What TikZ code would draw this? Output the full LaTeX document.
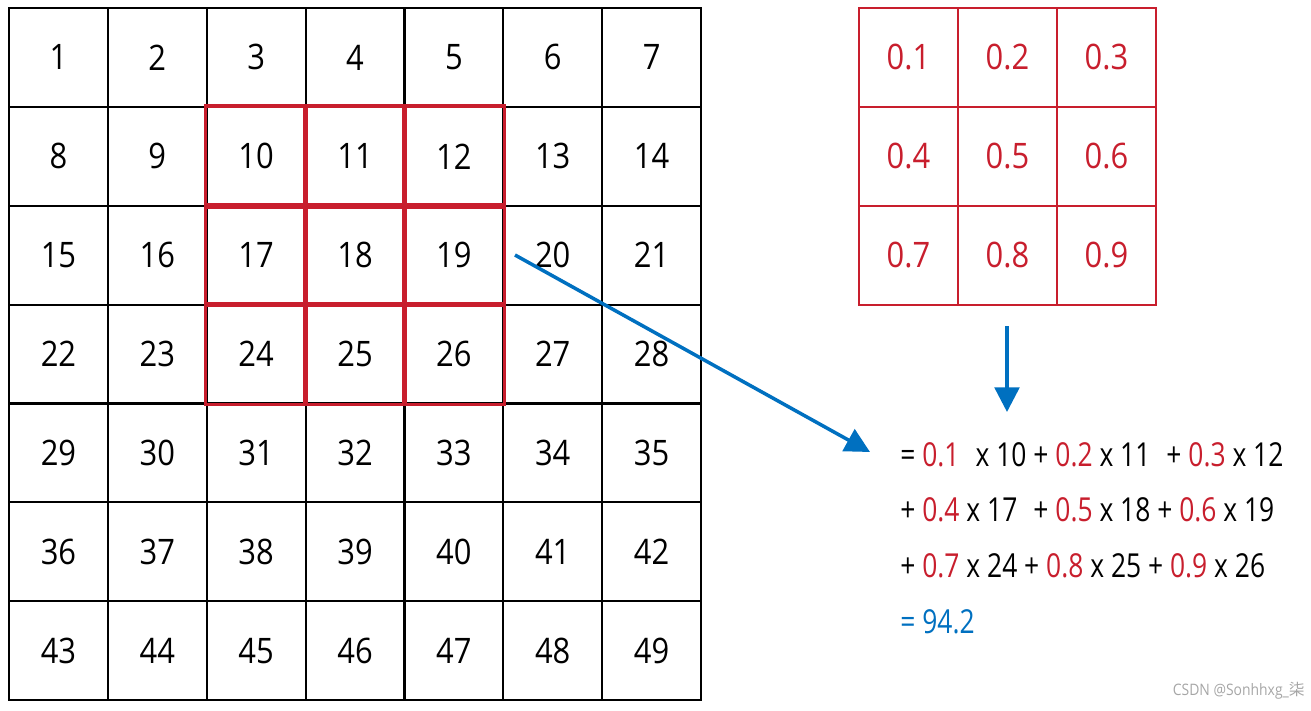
\documentclass[tikz,border=0pt]{standalone}
\usepackage{fontspec}
\setmainfont{Open Sans}[FakeStretch=0.88]
\newfontfamily\narrowf{Open Sans}[FakeStretch=0.8]
\newfontfamily\cjk{Noto Sans CJK SC}
\usetikzlibrary{arrows.meta}
\definecolor{kred}{RGB}{200,30,45}
\definecolor{kblue}{RGB}{0,112,192}
\begin{document}
\begin{tikzpicture}[x=0.02cm,y=-0.02cm,
  cell/.style={draw=black,line width=1.2pt,minimum size=98.86*0.02cm,inner sep=0,font=\fontsize{20}{24}\selectfont},
  kcell/.style={draw=kred,line width=1pt,minimum size=99*0.02cm,inner sep=0,text=kred,font=\fontsize{20}{24}\selectfont},
  eq/.style={anchor=west,inner sep=0,font=\narrowf\fontsize{18.8}{22}\selectfont},
  barrow/.style={kblue,line width=2pt,-{Triangle[length=14pt,width=14pt]}}]
\useasboundingbox (0,0) rectangle (1311,710);
\foreach \r in {0,...,6}{\foreach \c in {0,...,6}{
  \pgfmathtruncatemacro\n{\r*7+\c+1}
  \node[cell] (g\r\c) at ({9+98.86*(\c+0.5)},{8+98.86*(\r+0.5)}) {\n};}}
\foreach \r in {1,2,3}{\foreach \c in {2,3,4}{
  \draw[kred,line width=2pt] (g\r\c.north west) rectangle (g\r\c.south east);}}
\foreach \r/\a/\b/\cc in {0/0.1/0.2/0.3,1/0.4/0.5/0.6,2/0.7/0.8/0.9}{
  \node[kcell] (k\r0) at ({859+99*0.5},{8+99*(\r+0.5)}) {\a};
  \node[kcell] (k\r1) at ({859+99*1.5},{8+99*(\r+0.5)}) {\b};
  \node[kcell] (k\r2) at ({859+99*2.5},{8+99*(\r+0.5)}) {\cc};}
\node[eq] (e1) at (900,455) {= \textcolor{kred}{0.1}\; x 10 + \textcolor{kred}{0.2} x 11\; + \textcolor{kred}{0.3} x 12};
\node[eq] (e2) at (900,510) {+ \textcolor{kred}{0.4} x 17\; + \textcolor{kred}{0.5} x 18 + \textcolor{kred}{0.6} x 19};
\node[eq] (e3) at (900,566) {+ \textcolor{kred}{0.7} x 24 + \textcolor{kred}{0.8} x 25 + \textcolor{kred}{0.9} x 26};
\node[eq,text=kblue] (e4) at (900,622) {= 94.2};
\coordinate (s) at (515,255);
\coordinate (t) at (870,452);
\draw[barrow] (s) -- (t);
\coordinate (d1) at (1007,326);
\coordinate (d2) at (1007,412);
\draw[barrow] (d1) -- (d2);
\node[anchor=east,text=gray!70,font=\fontsize{9}{10}\selectfont,inner sep=0] (wm) at (1305,691) {CSDN @Sonhhxg\_{\cjk 柒}};
\end{tikzpicture}
\end{document}
